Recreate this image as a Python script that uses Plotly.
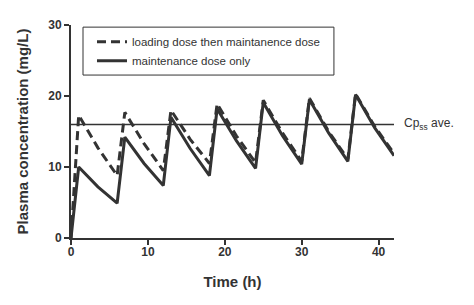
import plotly.graph_objects as go

# Time points (h)
time_h = [0, 1, 3.5, 6, 7, 9.5, 12, 13, 15.5, 18, 19, 21.5, 24, 25, 27.5, 30, 31, 33.5, 36, 37, 39.5, 42]
# Loading dose then maintenance dose (mg/L)
loading_conc = [0, 17.3, 12.7, 8.8, 17.7, 13.3, 9.5, 18.0, 13.9, 10.5, 18.9, 14.4, 10.6, 19.4, 14.8, 10.8, 19.7, 15.0, 11.1, 20.3, 15.7, 11.9]
# Maintenance dose only (mg/L)
maint_conc = [0, 10.0, 7.2, 4.9, 14.2, 10.5, 7.4, 17.0, 12.6, 8.8, 18.2, 13.7, 9.8, 19.1, 14.4, 10.4, 19.5, 14.8, 10.8, 20.2, 15.5, 11.6]
# Average steady-state concentration
cpss_ave = 16
cpss_span = [0, 42]

x_ticks = [0, 10, 20, 30, 40]
y_ticks = [0, 10, 20, 30]

INK = "#333333"
FONT = "Arial, Liberation Sans, sans-serif"

fig = go.Figure()
fig.add_trace(go.Scatter(
    x=time_h, y=loading_conc, mode="lines",
    name="loading dose then maintanence dose",
    line=dict(color=INK, width=3, dash="9px,5px"),
))
fig.add_trace(go.Scatter(
    x=time_h, y=maint_conc, mode="lines",
    name="maintenance dose only",
    line=dict(color=INK, width=3),
))
fig.add_trace(go.Scatter(
    x=cpss_span, y=[cpss_ave, cpss_ave], mode="lines",
    showlegend=False, line=dict(color=INK, width=1.5),
))

fig.add_annotation(
    x=cpss_span[1], y=cpss_ave, xref="x", yref="y",
    text="Cp<sub>ss</sub> ave.", showarrow=False,
    xanchor="left", yanchor="middle", xshift=8,
    font=dict(family=FONT, size=12, color=INK),
)

# legend frame
fig.add_shape(type="rect", xref="paper", yref="paper",
              x0=0.0372, x1=0.814, y0=0.765, y1=0.99,
              line=dict(color=INK, width=1), fillcolor="white", layer="below")

axis_common = dict(
    showline=True, linecolor=INK, linewidth=2,
    ticks="outside", ticklen=5, tickwidth=2, tickcolor=INK,
    showgrid=False, zeroline=False,
    tickfont=dict(family=FONT, size=12, color=INK, weight="bold"),
)

fig.update_layout(
    width=474, height=305,
    margin=dict(l=71, r=80, t=25, b=67),
    plot_bgcolor="white", paper_bgcolor="white",
    font=dict(family=FONT, color=INK),
    xaxis=dict(range=[0, 42], tickvals=x_ticks, ticklabelstandoff=-3,
               title=dict(text="Time (h)", standoff=18,
                          font=dict(family=FONT, size=15, color=INK, weight="bold")),
               **axis_common),
    yaxis=dict(range=[0, 30], tickvals=y_ticks,
               title=dict(text="Plasma concentration (mg/L)", standoff=16,
                          font=dict(family=FONT, size=15, color=INK, weight="bold")),
               **axis_common),
    legend=dict(
        x=0.065, y=0.99, xanchor="left", yanchor="top",
        borderwidth=0, bgcolor="rgba(0,0,0,0)",
        font=dict(family=FONT, size=11.5, color=INK),
        itemwidth=30, tracegroupgap=0,
    ),
    showlegend=True,
)

fig.write_html("out.html")
